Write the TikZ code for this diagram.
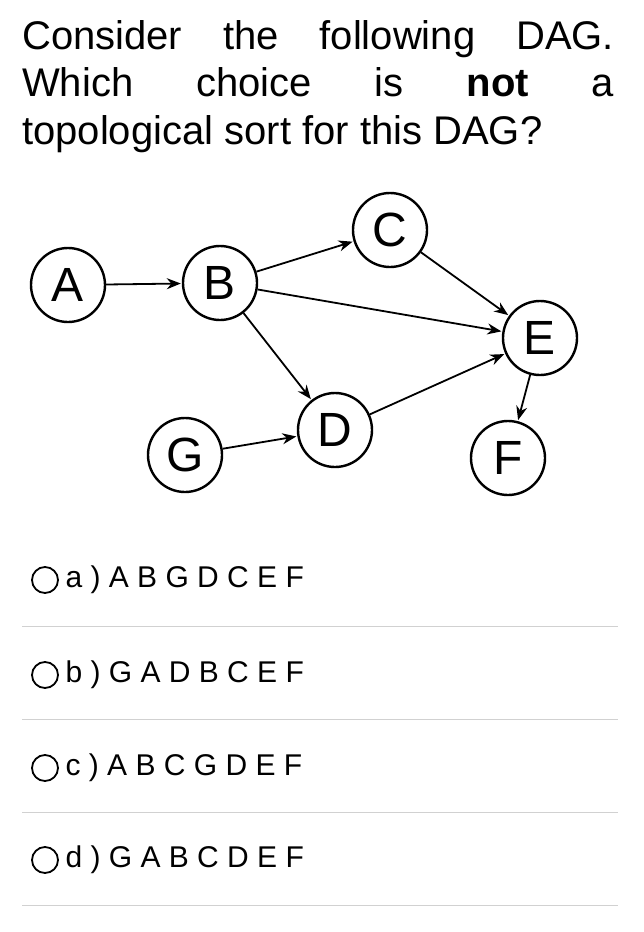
\documentclass[tikz,border=0pt]{standalone}
\usepackage{fontspec}
\setmainfont{Liberation Sans}
\usetikzlibrary{arrows.meta}
\begin{document}
\begin{tikzpicture}[x=1pt,y=-1pt,
  vert/.style={circle,draw,line width=2.4pt,minimum size=74pt,inner sep=0pt,font=\fontsize{48}{48}\selectfont},
  edge/.style={line width=1.8pt,-{Stealth[length=14pt,width=11pt]},shorten >=1pt},
  opt/.style={circle,draw,line width=1.8pt,minimum size=26pt,inner sep=0pt},
  optlabel/.style={anchor=west,font=\fontsize{30}{30}\selectfont},
  sep/.style={draw=black!18,line width=1pt}]
\useasboundingbox[fill=white] (0,0) rectangle (644,932);
\node[anchor=north west,inner sep=0pt,align=left,font=\fontsize{40}{47.5}\selectfont] (title) at (22,20)
 {\hbox to 592pt{Consider\hfill the\hfill following\hfill DAG.}\\
  \hbox to 592pt{Which\hfill choice\hfill is\hfill \textbf{not}\hfill a}\\
  topological sort for this DAG?};
\node[vert] (A) at (68,285) {A};
\node[vert] (B) at (220,283) {B};
\node[vert] (C) at (390,230) {C};
\node[vert] (E) at (540,338) {E};
\node[vert] (D) at (335,430) {D};
\node[vert] (G) at (185,455) {G};
\node[vert] (F) at (508,458) {F};
\draw[edge] (A) -- (B);
\draw[edge] (B) -- (C);
\draw[edge] (C) -- (E);
\draw[edge] (B) -- (E);
\draw[edge] (B) -- (D);
\draw[edge] (D) -- (E);
\draw[edge] (G) -- (D);
\draw[edge] (E) -- (F);
\foreach \y/\t [count=\i] in {580/a ) A B G D C E F, 675/b ) G A D B C E F, 768/c ) A B C G D E F, 860/d ) G A B C D E F}{
  \node[opt] (o\i) at (45,\y) {};
  \node[optlabel] (l\i) at (62,\y) {\t};
}
\foreach \y [count=\i] in {626,719,812,905}{
  \coordinate (s\i a) at (22,\y); \coordinate (s\i b) at (618,\y);
  \draw[sep] (s\i a) -- (s\i b);
}
\end{tikzpicture}
\end{document}
